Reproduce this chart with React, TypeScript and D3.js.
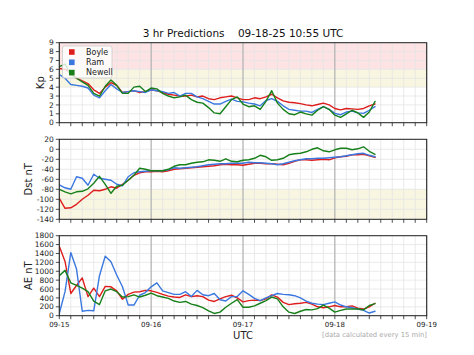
import React from 'react';
import * as d3 from 'd3';

// time grid: hours since 2025-09-15 00:00 UTC (sampled every 1.5 h)
const hours: number[] = d3.range(0, 83, 1.5);

const kpBoyle = [6.1, 6.0, 5.6, 5.0, 4.7, 4.4, 3.7, 3.3, 4.0, 4.5, 4.2, 3.4, 3.5, 3.6, 3.4, 3.5, 3.7,
  3.6, 3.4, 3.2, 3.1, 3.0, 3.0, 3.1, 2.9, 3.0, 2.7, 2.6, 2.8, 2.9, 3.0, 2.8, 2.6,
  2.6, 2.8, 2.7, 2.9, 3.2, 2.8, 2.45, 2.3, 2.25, 2.15, 2.0, 1.9, 2.05, 2.2, 2.0, 1.6,
  1.45, 1.6, 1.55, 1.5, 1.6, 1.9, 2.1];
const kpRam = [5.4, 5.0, 4.3, 4.2, 4.1, 3.9, 3.1, 2.8, 3.6, 4.3, 3.8, 3.4, 3.5, 3.6, 3.5, 3.4, 3.7,
  3.6, 3.5, 3.3, 3.4, 3.0, 3.3, 3.3, 2.9, 2.7, 2.4, 2.1, 2.1, 2.4, 2.65, 2.4, 2.35,
  2.2, 2.1, 1.9, 2.5, 2.7, 2.4, 1.9, 1.5, 1.4, 1.3, 1.3, 1.15, 1.5, 1.8, 1.5, 1.05,
  0.9, 1.2, 1.3, 1.1, 1.05, 1.4, 1.8];
const kpNewell = [6.3, 6.6, 5.4, 5.0, 4.6, 4.2, 3.3, 3.0, 4.1, 4.8, 4.2, 3.3, 3.3, 4.0, 4.1, 3.5, 3.9,
  3.8, 3.3, 3.0, 2.8, 2.9, 3.1, 2.6, 2.3, 2.2, 1.7, 1.1, 1.0, 1.8, 2.6, 2.9, 2.1,
  1.8, 1.9, 1.5, 2.4, 3.6, 2.2, 1.5, 1.0, 0.9, 1.2, 1.0, 0.85, 1.4, 1.8, 1.5, 0.85,
  0.6, 1.0, 1.4, 1.1, 0.6, 1.2, 2.4];

const dstBoyle = [-98, -118, -117, -110, -100, -92, -82, -83, -80, -75, -78, -70, -62, -52, -47, -45, -45,
  -44, -45, -43, -40, -39, -38, -37, -36, -35, -34, -33, -31, -30, -31, -31, -32,
  -30, -28, -28, -29, -29, -30, -31, -28, -24, -21, -21, -22, -21, -20, -21, -17,
  -15, -14, -11, -11, -10, -13, -16];
const dstRam = [-71, -77, -80, -55, -58, -72, -50, -58, -60, -62, -70, -73, -55, -47, -45, -44, -43,
  -43, -43, -41, -37, -38, -37, -36, -35, -33, -31, -30, -29, -29, -28, -28, -28,
  -26, -27, -27, -28, -29, -31, -29, -26, -23, -21, -19, -19, -18, -18, -17, -16,
  -15, -13, -11, -9, -8, -12, -15];
const dstNewell = [-80, -85, -89, -85, -84, -79, -68, -54, -70, -88, -74, -72, -62, -52, -38, -40, -43,
  -43, -43, -40, -34, -31, -31, -28, -26, -25, -21, -22, -24, -19, -24, -25, -22,
  -21, -18, -12, -15, -22, -21, -18, -11, -9, -8, -5, 0, 3, -3, -5, -1,
  2, 2, -1, 1, 5, -4, -10];

const aeBoyle = [1560, 1220, 500, 680, 850, 430, 620, 430, 660, 650, 560, 370, 480, 530, 540, 570, 560,
  525, 480, 440, 420, 410, 470, 430, 450, 430, 350, 320, 380, 430, 460, 400, 310,
  340, 350, 340, 380, 470, 420, 300, 250, 270, 280, 300, 260, 200, 180, 200, 230,
  200, 200, 220, 170, 150, 200, 280];
const aeRam = [50, 541, 1420, 1050, 100, 120, 110, 900, 1340, 1216, 916, 650, 241, 240, 460, 520, 650,
  740, 560, 520, 480, 480, 540, 430, 570, 470, 450, 500, 360, 330, 430, 430, 560,
  480, 390, 340, 400, 450, 500, 480, 470, 450, 400, 330, 280, 260, 250, 280, 310,
  240, 200, 180, 150, 120, 60, 100];
const aeNewell = [900, 1020, 740, 680, 620, 540, 330, 250, 560, 600, 540, 420, 430, 470, 420, 460, 510,
  450, 420, 390, 330, 300, 320, 260, 230, 180, 110, 50, 80, 190, 280, 360, 190,
  190, 220, 280, 340, 420, 380, 200, 80, 50, 100, 140, 130, 160, 240, 170, 80,
  120, 150, 150, 150, 130, 230, 270];

const seriesNames = ['Boyle', 'Ram', 'Newell'];
const seriesColors = ['#de1d1d', '#3a78e0', '#17801a'];

const kpTicks = [0, 1, 2, 3, 4, 5, 6, 7, 8, 9];
const dstTicks = [20, 0, -20, -40, -60, -80, -100, -120, -140];
const aeTicks = [0, 200, 400, 600, 800, 1000, 1200, 1400, 1600, 1800];
const dayLabels = ['09-15', '09-16', '09-17', '09-18', '09-19'];

const FONT = 'DejaVu Sans, sans-serif';
const X0 = 59.3;
const X1 = 426.7;
const PH = 80;

const start = new Date(Date.UTC(2025, 8, 15));
const end = new Date(Date.UTC(2025, 8, 19));
const x = d3.scaleUtc().domain([start, end]).range([X0, X1]);
const toDate = (h: number) => new Date(start.getTime() + h * 3600e3);

type Band = { from: number; to: number; color: string };
type PanelDef = {
  top: number;
  domain: [number, number];
  ticks: number[];
  label: string;
  labelX: number;
  data: number[][];
  bands: Band[];
  showX: boolean;
};

const panels: PanelDef[] = [
  {
    top: 42.7, domain: [0, 9], ticks: kpTicks, label: 'Kp', labelX: 40,
    data: [kpBoyle, kpRam, kpNewell],
    bands: [{ from: 6, to: 9, color: '#fde3e3' }, { from: 4, to: 6, color: '#f8f6e0' }],
    showX: false,
  },
  {
    top: 139.3, domain: [-140, 20], ticks: dstTicks, label: 'Dst nT', labelX: 28.5,
    data: [dstBoyle, dstRam, dstNewell],
    bands: [{ from: -140, to: -80, color: '#f8f6e0' }],
    showX: false,
  },
  {
    top: 235.7, domain: [0, 1800], ticks: aeTicks, label: 'AE nT', labelX: 28.5,
    data: [aeBoyle, aeRam, aeNewell],
    bands: [],
    showX: true,
  },
];

const minorTimes = d3.utcHour.every(3)!.range(start, new Date(end.getTime() + 1));
const dayTimes = d3.utcDay.range(start, new Date(end.getTime() + 1));

function Panel({ p, idx }: { p: PanelDef; idx: number }) {
  const y = d3.scaleLinear().domain(p.domain).range([p.top + PH, p.top]);
  const clipId = `clip${idx}`;
  const line = d3.line<number>()
    .x((_, i) => x(toDate(hours[i])))
    .y((d) => y(d));
  const bottom = p.top + PH;
  return (
    <g>
      <defs>
        <clipPath id={clipId}>
          <rect x={X0} y={p.top} width={X1 - X0} height={PH} />
        </clipPath>
      </defs>
      <rect x={X0} y={p.top} width={X1 - X0} height={PH} fill="#fff" />
      {p.bands.map((b, i) => (
        <rect key={i} x={X0} width={X1 - X0} y={y(b.to)} height={y(b.from) - y(b.to)} fill={b.color} />
      ))}
      {p.ticks.map((t) => (
        <line key={'h' + t} x1={X0} x2={X1} y1={y(t)} y2={y(t)} stroke="#e4e4e4" strokeWidth={0.8} />
      ))}
      {minorTimes.map((t, i) => (
        <line key={'v' + i} x1={x(t)} x2={x(t)} y1={p.top} y2={bottom} stroke="#e4e4e4" strokeWidth={0.8} />
      ))}
      {dayTimes.map((t, i) => (
        <line key={'d' + i} x1={x(t)} x2={x(t)} y1={p.top} y2={bottom} stroke="#a8a8a8" strokeWidth={1} />
      ))}
      <g clipPath={`url(#${clipId})`}>
        {p.data.map((s, i) => (
          <path key={i} d={line(s) || ''} fill="none" stroke={seriesColors[i]} strokeWidth={1.4}
            strokeLinejoin="round" strokeLinecap="round" />
        ))}
      </g>
      <rect x={X0} y={p.top} width={X1 - X0} height={PH} fill="none" stroke="#222" strokeWidth={1} />
      {p.ticks.map((t) => (
        <g key={'yt' + t}>
          <line x1={X0 - 3.5} x2={X0} y1={y(t)} y2={y(t)} stroke="#222" strokeWidth={0.8} />
          <text x={X0 - 5.5} y={y(t)} dy="0.35em" textAnchor="end" fontSize={7.5} fontFamily={FONT} fill="#222">{t}</text>
        </g>
      ))}
      {minorTimes.map((t, i) => (
        <line key={'xt' + i} x1={x(t)} x2={x(t)} y1={bottom} y2={bottom + 3.5} stroke="#222" strokeWidth={0.8} />
      ))}
      {p.showX && dayTimes.map((t, i) => (
        <text key={'xl' + i} x={x(t)} y={bottom + 11.5} textAnchor="middle" fontSize={7} fontFamily={FONT} fill="#222">{dayLabels[i]}</text>
      ))}
      <text transform={`translate(${p.labelX},${p.top + PH / 2}) rotate(-90)`} textAnchor="middle" dy="0.35em"
        fontSize={10} fontFamily={FONT} fill="#222">{p.label}</text>
    </g>
  );
}

export default function App() {
  return (
    <svg width={474} height={355} style={{ display: 'block', position: 'absolute', left: 0, top: 0, background: '#fff' }}>
      <rect width={474} height={355} fill="#fff" />
      <text x={243} y={37} textAnchor="middle" fontSize={10.5} fontFamily={FONT} fill="#111" style={{ whiteSpace: 'pre' }}>
        {'3 hr Predictions    09-18-25 10:55 UTC'}
      </text>
      {panels.map((p, i) => <Panel key={i} p={p} idx={i} />)}
      <g>
        <rect x={62.5} y={46} width={49.5} height={32} rx={2} fill="#fff" fillOpacity={0.8} stroke="#cccccc" strokeWidth={0.8} />
        {seriesNames.map((n, i) => (
          <g key={n}>
            <rect x={69} y={49.2 + i * 10.3} width={5.6} height={5.6} fill={seriesColors[i]} />
            <text x={86} y={52 + i * 10.3} dy="0.35em" fontSize={8} fontFamily={FONT} fill="#222">{n}</text>
          </g>
        ))}
      </g>
      <text x={243} y={339} textAnchor="middle" fontSize={10} fontFamily={FONT} fill="#222">UTC</text>
      <text x={427} y={337} textAnchor="end" fontSize={6.8} fontFamily={FONT} fill="#aaaaaa">[data calculated every 15 min]</text>
    </svg>
  );
}
